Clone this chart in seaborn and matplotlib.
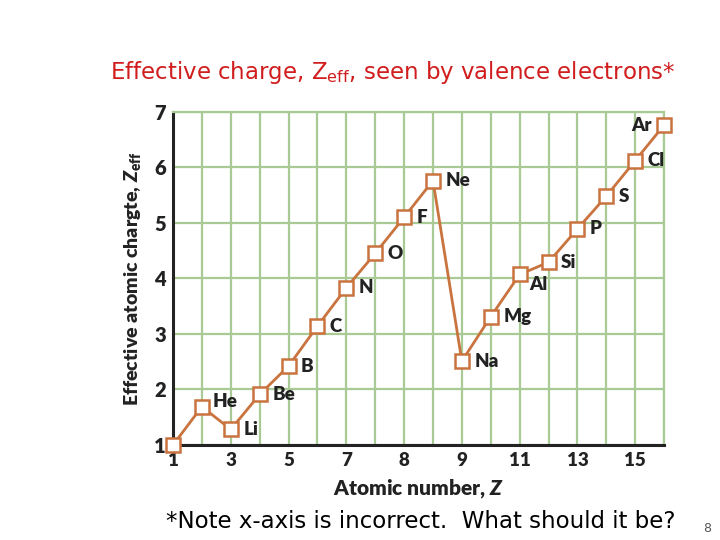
import pandas as pd
import matplotlib
matplotlib.use('Agg')
import matplotlib.pyplot as plt
import seaborn as sns

# Data: atomic number, element symbol, effective nuclear charge
atomic_number = list(range(1, 19))
symbols = ['H', 'He', 'Li', 'Be', 'B', 'C', 'N', 'O', 'F', 'Ne',
           'Na', 'Mg', 'Al', 'Si', 'P', 'S', 'Cl', 'Ar']
zeff = [1.00, 1.69, 1.28, 1.91, 2.42, 3.14, 3.83, 4.45, 5.10, 5.76,
        2.51, 3.31, 4.07, 4.29, 4.89, 5.48, 6.12, 6.76]
# the (deliberately wrong) tick labels on the x axis
x_tick_labels = ['1', '3', '5', '7', '8', '9', '11', '13', '15']

df = pd.DataFrame({'Z': atomic_number, 'zeff': zeff, 'sym': symbols})

sns.set_style("white")
plt.rcParams['font.family'] = ['Lato', 'DejaVu Sans']
plt.rcParams['mathtext.fontset'] = 'custom'
plt.rcParams['mathtext.it'] = 'Lato:italic:heavy'
plt.rcParams['mathtext.rm'] = 'Lato:heavy'

green = '#a9c995'
orange = '#c9733f'
ink = '#222222'

fig = plt.figure(figsize=(7.2, 5.4), dpi=100)
ax = fig.add_axes([0.2403, 0.176, 0.682, 0.617])

sns.lineplot(data=df, x='Z', y='zeff', ax=ax, color=orange, linewidth=2.0,
             marker='s', markersize=10, markerfacecolor='white',
             markeredgecolor=orange, markeredgewidth=1.8)
for ln in ax.lines:
    ln.set_clip_on(False)
    ln.set_zorder(5)

ax.set_xlim(1, 18)
ax.set_ylim(1, 7)

# grid
ax.set_xticks(atomic_number)
ax.set_xticklabels([x_tick_labels[i // 2] if i % 2 == 0 else '' for i in range(18)])
ax.set_yticks(range(1, 8))
ax.grid(True, color=green, linewidth=1.6)
ax.set_axisbelow(True)

ax.tick_params(axis='both', direction='in', color=ink, width=1.6,
               labelcolor=ink)
ax.tick_params(axis='x', length=8, pad=5, labelsize=13.5)
ax.tick_params(axis='y', length=9, pad=5, labelsize=14.5)
for lbl in ax.get_xticklabels() + ax.get_yticklabels():
    lbl.set_fontweight('heavy')

for side in ['left', 'bottom']:
    ax.spines[side].set_color(ink)
    ax.spines[side].set_linewidth(2.2)
for side in ['top', 'right']:
    ax.spines[side].set_color(green)
    ax.spines[side].set_linewidth(1.6)

ax.set_xlabel('Atomic number, $Z$', fontsize=15, fontweight='heavy',
              color=ink, labelpad=6)
ax.set_ylabel('Effective atomic chargte, $Z_{\\mathrm{eff}}$', fontsize=14,
              fontweight='heavy', color=ink, labelpad=8)

# element labels
offsets = {'He': (8, 4), 'Al': (7, -7), 'Ar': (-9, 0)}
for z, v, s in zip(atomic_number, zeff, symbols):
    if s == 'H':
        continue
    dx, dy = offsets.get(s, (9, 0))
    ax.annotate(s, (z, v), xytext=(dx, dy), textcoords='offset points',
                ha='right' if dx < 0 else 'left', va='center',
                fontsize=13.5, fontweight='heavy', color=ink, zorder=6)

fig.text(0.546, 0.866, 'Effective charge, Z$_{\\mathregular{eff}}$, seen by valence electrons*',
         ha='center', va='center', fontsize=16.5, color='#d11d1d',
         family='DejaVu Sans')
fig.text(0.585, 0.035, '*Note x-axis is incorrect.  What should it be?',
         ha='center', va='center', fontsize=16.5, color='black',
         family='DejaVu Sans')
fig.text(0.982, 0.022, '8', ha='center', va='center', fontsize=9,
         color='#555555', family='DejaVu Sans')

fig.savefig('out.png', dpi=100)
